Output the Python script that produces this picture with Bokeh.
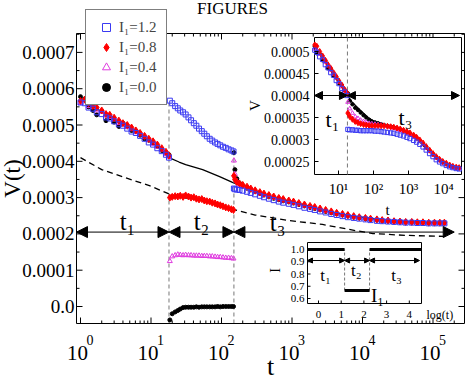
from math import pi
from bokeh.plotting import figure
from bokeh.models import Range1d, LinearScale, LogScale, Legend, LegendItem, Arrow, NormalHead
from bokeh.embed import file_html
from bokeh.resources import INLINE
from bokeh.core.properties import value

FONT = "Liberation Serif"
U = 1e-6  # every V value below is written in units of 1e-6

# ---------------- main panel data ----------------
legend_labels = ["I\u2081=1.2", "I\u2081=0.8", "I\u2081=0.4", "I\u2081=0.0"]
x_ticks = [1, 10, 100, 1000, 10000, 100000]
x_tick_base = ["10", "10", "10", "10", "10", "10"]
x_tick_exp = ["0", "1", "2", "3", "4", "5"]
x_minor_mult = [2, 3, 4, 5, 6, 7, 8, 9]
y_ticks = [0.0, 0.0001, 0.0002, 0.0003, 0.0004, 0.0005, 0.0006, 0.0007]
y_tick_labels = ["0.0", "0.0001", "0.0002", "0.0003", "0.0004", "0.0005", "0.0006", "0.0007"]
y_minor = [0.00005, 0.00015, 0.00025, 0.00035, 0.00045, 0.00055, 0.00065, 0.00075]

phase_bounds = [18, 150]
vline_tops = [567, 425]
phase_labels = ["t\u2081", "t\u2082", "t\u2083"]

# phase 1 (I = 1)
t_p1 = [1.0, 1.15, 1.3, 1.5, 1.7, 2.0, 2.3, 2.6, 3.0, 3.5, 4.0, 4.6, 5.3, 6.1, 7.0, 8.1, 9.3, 10.7, 12.3, 14.2, 16.3, 18.0]
v_p1_12 = [562, 560, 548, 545, 535, 530, 521, 518, 510, 502, 498, 490, 482, 478, 470, 462, 452, 446, 436, 428, 418, 410]
v_p1_08 = [566, 570, 560, 552, 548, 540, 530, 528, 520, 512, 505, 500, 493, 485, 478, 470, 462, 455, 446, 436, 426, 416]
v_p1_04 = [560, 565, 552, 550, 540, 536, 526, 522, 515, 505, 502, 494, 488, 480, 474, 466, 458, 448, 440, 432, 420, 412]
v_p1_00 = [578, 572, 550, 540, 528, 538, 512, 520, 508, 496, 505, 495, 485, 483, 472, 462, 458, 450, 441, 430, 424, 418]

# phase 2 (I = I1)
t_p2 = [18.5, 20, 22, 24, 26, 28.5, 31, 34, 37, 40.5, 44, 48, 52.5, 57, 62, 68, 74, 81, 88, 96, 105, 115, 126, 138, 148]
v_p2_12 = [567, 560, 552, 546, 540, 535, 529, 521, 513, 505, 498, 490, 483, 476, 469, 462, 457, 452, 448, 444, 440, 437, 433, 430, 427]
v_p2_08 = [300, 302, 304, 303, 305, 302, 306, 303, 300, 301, 297, 295, 296, 292, 290, 289, 286, 284, 281, 279, 276, 273, 271, 268, 266]
v_p2_04 = [125, 138, 141, 143, 142, 141, 142, 141, 141, 140, 140, 140, 139, 139, 139, 138, 138, 137, 136, 136, 135, 134, 134, 133, 132]
v_p2_00 = [-37, -20, -15, -11, -7, -3, -2, -2, -2, -2, -1, -2, -1, -1, -1, -1, -1, -1, 0, -1, 0, 0, 0, 0, 0]

# phase 3 (I = 1 again)
t_p3 = [150, 155, 165, 180, 200, 230, 260, 300, 350, 400, 470, 550, 650, 750, 900, 1050, 1250, 1500, 1800, 2100,
        2500, 3000, 3600, 4300, 5200, 6200, 7500, 9000, 11000, 13000, 16000, 19000, 23000, 28000, 34000, 41000,
        50000, 60000, 72000, 87000, 105000, 125000, 145000]
v_p3_12 = [325, 323, 322, 321, 319, 316, 313, 309, 305, 301, 297, 293, 289, 286, 283, 280, 276, 272, 269, 266,
           262, 259, 255, 252, 249, 246, 244, 242, 240, 238, 236, 235, 234, 233, 232, 231, 231, 230, 230, 229, 229, 229, 229]
v_p3_08 = [360, 350, 343, 339, 335, 330, 325, 320, 315, 311, 307, 303, 299, 296, 292, 289, 285, 281, 277, 274,
           270, 266, 262, 258, 255, 252, 249, 246, 244, 242, 240, 238, 237, 235, 234, 233, 233, 232, 232, 231, 231, 231, 231]
v_p3_04 = [402, 365, 345, 336, 331, 326, 321, 316, 311, 307, 303, 299, 295, 292, 289, 286, 282, 278, 274, 271,
           267, 263, 259, 256, 253, 250, 247, 245, 243, 241, 239, 237, 236, 234, 233, 232, 232, 231, 231, 230, 230, 230, 230]
v_p3_00 = [424, 377, 352, 340, 332, 326, 321, 316, 311, 307, 302, 298, 294, 291, 288, 285, 281, 277, 273, 270,
           266, 262, 258, 255, 252, 249, 246, 244, 242, 240, 238, 236, 235, 234, 233, 232, 232, 231, 231, 230, 230, 230, 230]

# reference curves
t_ref = [1, 2, 4, 8, 13, 18, 25, 31, 54, 94, 143, 200, 300, 500, 1000, 2000, 2700, 5000, 8000, 15000, 24000, 40000, 71000, 100000, 145000]
v_ref = [572, 536, 500, 466, 436, 410, 398, 391, 377, 358, 342, 330, 318, 303, 289, 273, 265, 255, 248, 241, 237, 234, 232, 231, 230]
t_dash = [1, 2, 4.3, 9.5, 18, 25, 40, 80, 150, 300, 900, 2700, 8000, 14000, 40000, 150000]
v_dash = [410, 377, 355, 333, 310, 302, 296, 281, 267, 252, 237, 226, 209, 201, 196, 193]

# ---------------- inset 1 data ----------------
i1_t1 = [2.1, 2.4, 2.9, 3.5, 4.2, 5.0, 6.0, 7.2, 8.6, 10.3, 12.4, 14.8, 17.5]
i1_v1_12 = [503, 498, 488, 482, 470, 463, 452, 446, 434, 427, 416, 408, 400]
i1_v1_08 = [515, 512, 500, 490, 480, 470, 462, 452, 443, 433, 424, 414, 406]
i1_v1_04 = [506, 504, 494, 486, 476, 468, 458, 449, 440, 430, 420, 410, 402]
i1_v1_00 = [512, 496, 495, 480, 478, 462, 460, 445, 441, 428, 423, 412, 403]
i1_t3 = [18.5, 21, 25, 30, 36, 43, 52, 62, 75, 90, 110, 135, 165, 200, 250, 310, 380, 470, 580, 720, 900, 1100,
         1400, 1700, 2100, 2600, 3200, 4000, 5000, 6200, 7700, 9500, 12000, 15000, 18500, 23000, 28000]
i1_v3_12 = [323, 322, 322, 321, 321, 320, 320, 320, 320, 320, 319, 319, 318, 317, 316, 315, 314, 312, 310, 308,
            305, 302, 298, 294, 289, 283, 276, 268, 261, 254, 249, 245, 241, 238, 236, 234, 233]
i1_v3_08 = [360, 352, 346, 341, 338, 336, 334, 333, 332, 331, 331, 331, 331, 331, 330, 329, 328, 326, 324, 321,
            318, 315, 310, 305, 299, 292, 284, 276, 268, 261, 255, 250, 246, 242, 239, 237, 236]
i1_v3_04 = [385, 370, 360, 352, 348, 344, 341, 339, 337, 336, 335, 334, 333, 332, 330, 328, 326, 324, 321, 318,
            315, 312, 307, 302, 296, 289, 281, 273, 265, 258, 252, 247, 243, 240, 237, 235, 234]
i1_v3_00 = [405, 388, 380, 372, 367, 361, 355, 350, 345, 341, 339, 337, 335, 333, 331, 329, 327, 325, 322, 319,
            316, 313, 308, 303, 297, 290, 282, 274, 266, 259, 253, 248, 244, 241, 238, 236, 235]
i1_tref = [2.1, 5, 10, 18, 25, 40, 70, 114, 200, 350, 700, 1070, 2000, 3080, 5000, 9300, 15000, 28000]
i1_vref = [510, 466, 430, 400, 384, 368, 350, 339, 334, 331, 322, 315, 297, 280, 266, 249, 241, 235]
i1_bound = 18
i1_arrow_end = 28650
i1_yticks = [0.0005, 0.00045, 0.0004, 0.00035, 0.0003, 0.00025]
i1_ytick_labels = ["0.0005", "0.00045", "0.0004", "0.00035", "0.0003", "0.00025"]
i1_xticks = [10, 100, 1000, 10000]
i1_xtick_labels = ["10\u00b9", "10\u00b2", "10\u00b3", "10\u2074"]

# ---------------- inset 2 (protocol) ----------------
i2_seg_x0 = [-0.4846, 1.15, 2.25]
i2_seg_x1 = [1.15, 2.25, 4.537]
i2_level = [1.0, 0.665, 1.0]
i2_bounds = [1.15, 2.25]
i2_arrow_end = 4.45
i2_yticks = [1.0, 0.9, 0.8, 0.7, 0.6]
i2_ytick_labels = ["1.0", "0.9", "0.8", "0.7", "0.6"]
i2_xticks = [0, 1, 2, 3, 4]
i2_xtick_labels = ["0", "1", "2", "3", "4"]

# ---------------- pixel geometry (figure pixels, origin top-left) ----------------
W, H = 466, 383
MX0, MXD = 80.0, 70.5                 # main: pixel of t=1, pixels per decade
MY0, MYK = 306.0, 363000.0            # main: pixel of V=0, pixels per unit of V
AX0, AXD = 338.0, 35.0                # inset 1: pixel of t=10, pixels per decade
AY0, AYK, AYV = 95.0, 440000.0, 0.0004
BX0, BXK = 318.0, 22.7                # inset 2: pixel of log t = 0, pixels per unit
BY0, BYK = 249.0, 122.5               # inset 2: pixel of I = 1.0, pixels per unit
MAIN_BOX = (76, 464, 33, 323)         # left, right, top, bottom
I1_BOX = (314, 461, 37, 174)
I2_BOX = (307, 421, 242, 303)

def mx(px): return 10 ** ((px - MX0) / MXD)
def my(py): return (MY0 - py) / MYK
def ax(px): return 10 ** (1 + (px - AX0) / AXD)
def ay(py): return AYV + (AY0 - py) / AYK
def bx(px): return (px - BX0) / BXK
def by(py): return 1.0 + (BY0 - py) / BYK

BLUE, RED, MAG, BLACK = "#3a3af2", "#ff0000", "#e03ce0", "#000000"
STY = {
    "12": dict(marker="square", size=5, fill_color=None, line_color=BLUE, line_width=1),
    "08": dict(marker="diamond", size=7, fill_color=RED, line_color=RED, line_width=1),
    "04": dict(marker="triangle", size=5, fill_color=None, line_color=MAG, line_width=1),
    "00": dict(marker="circle", size=4, fill_color=BLACK, line_color=BLACK, line_width=1),
}

p = figure(width=W, height=H, x_axis_type="log", x_axis_location=None, y_axis_location=None,
           x_range=Range1d(mx(0), mx(W)), y_range=Range1d(my(H), my(0)),
           output_backend="svg", toolbar_location=None,
           min_border=0, min_border_left=0, min_border_right=0, min_border_top=0, min_border_bottom=0,
           background_fill_color="white", border_fill_color="white")
p.outline_line_color = None
p.grid.visible = False

p.extra_x_ranges = {"i1x": Range1d(ax(0), ax(W)), "i2x": Range1d(bx(0), bx(W))}
p.extra_y_ranges = {"i1y": Range1d(ay(H), ay(0)), "i2y": Range1d(by(H), by(0))}
p.extra_x_scales = {"i1x": LogScale(), "i2x": LinearScale()}
p.extra_y_scales = {"i1y": LinearScale(), "i2y": LinearScale()}
R1 = dict(x_range_name="i1x", y_range_name="i1y")
R2 = dict(x_range_name="i2x", y_range_name="i2y")

def scaled(v):
    return [x * U for x in v]

def series(t, v, key, k=1.0, **rng):
    st = dict(STY[key])
    st["size"] = st["size"] * k
    return p.scatter(x=t, y=scaled(v), **st, **rng)

def txt(x, y, text, size, align="center", baseline="middle", angle=0, **rng):
    p.text(x=x, y=y, text=text, angle=angle, text_font=value(FONT), text_font_size=size,
           text_align=align, text_baseline=baseline, text_color="black", **rng)

def arrow(a, b, y, head, **rng):
    p.add_layout(Arrow(x_start=a, y_start=y, x_end=b, y_end=y,
                       start=NormalHead(size=head, fill_color="black", line_color="black"),
                       end=NormalHead(size=head, fill_color="black", line_color="black"),
                       line_color="black", line_width=1, **rng))

# ---------------- main panel ----------------
L, R, T, B = MAIN_BOX
p.line(t_ref, scaled(v_ref), line_color="black", line_width=1.3)
p.line(t_dash, scaled(v_dash), line_color="black", line_width=1.3, line_dash="6 4")
p.segment(x0=phase_bounds, y0=my(B), x1=phase_bounds, y1=scaled(vline_tops),
          line_color="#777777", line_width=1, line_dash="4 3")

main_rs = {}
for key, v1, v2, v3 in [("00", v_p1_00, v_p2_00, v_p3_00), ("04", v_p1_04, v_p2_04, v_p3_04),
                        ("08", v_p1_08, v_p2_08, v_p3_08), ("12", v_p1_12, v_p2_12, v_p3_12)]:
    main_rs[key] = series(t_p1, v1, key)
    series(t_p2, v2, key)
    series(t_p3, v3, key)

arrow_y = 0.000205
ends = [mx(L)] + phase_bounds + [2.0e5]
for a, b in zip(ends[:-1], ends[1:]):
    arrow(a, b, arrow_y, 11)
txt([4.64, 52, 623], [0.000233, 0.000233, 0.000231], phase_labels, "25px")

# frame, ticks and tick labels of the main panel
p.quad(left=mx(L), right=mx(R), top=my(T), bottom=my(B), fill_color=None, line_color="black", line_width=1)
x_minor = [m * d for d in x_ticks for m in x_minor_mult if m * d < mx(R)]
for xs, ln in [(x_ticks, 6), (x_minor, 3)]:
    p.segment(x0=xs, x1=xs, y0=my(B), y1=my(B - ln), line_color="black", line_width=1)
    p.segment(x0=xs, x1=xs, y0=my(T), y1=my(T + ln), line_color="black", line_width=1)
for ys, ln in [(y_ticks, 6), (y_minor, 3)]:
    p.segment(x0=mx(L), x1=mx(L + ln), y0=ys, y1=ys, line_color="black", line_width=1)
    p.segment(x0=mx(R), x1=mx(R - ln), y0=ys, y1=ys, line_color="black", line_width=1)
p.text(x=x_ticks, y=my(352), text=x_tick_base, x_offset=-3, text_font=value(FONT), text_font_size="21px",
       text_align="center", text_baseline="alphabetic", text_color="black")
p.text(x=x_ticks, y=my(339), text=x_tick_exp, x_offset=6, text_font=value(FONT), text_font_size="14px",
       text_align="left", text_baseline="alphabetic", text_color="black")
txt(mx(L - 2), y_ticks, y_tick_labels, "19px", align="right")
txt(mx(12), my(178), ["V(t)"], "23px", angle=pi / 2)
txt(mx(270), my(366), ["t"], "26px")
txt(mx(232), my(8), ["FIGURES"], "17px")

# ---------------- inset 1 ----------------
L1, R1x, T1, B1 = I1_BOX
p.quad(left=ax(L1), right=ax(R1x), bottom=ay(B1), top=ay(T1), fill_color="white", line_color="black",
       line_width=1, **R1)
p.segment(x0=i1_bound, x1=i1_bound, y0=ay(B1), y1=ay(T1), line_color="#777777", line_width=1,
          line_dash="4 3", **R1)
p.line(i1_tref, scaled(i1_vref), line_color="black", line_width=1.3, **R1)
for key, v1, v3 in [("00", i1_v1_00, i1_v3_00), ("04", i1_v1_04, i1_v3_04),
                    ("08", i1_v1_08, i1_v3_08), ("12", i1_v1_12, i1_v3_12)]:
    series(i1_t1, v1, key, 0.85, **R1)
    series(i1_t3, v3, key, 0.85, **R1)
arrow(ax(L1), i1_bound, 0.0004, 8, **R1)
arrow(i1_bound, i1_arrow_end, 0.0004, 8, **R1)
p.segment(x0=i1_xticks, x1=i1_xticks, y0=ay(B1), y1=ay(B1 - 4), line_color="black", **R1)
p.segment(x0=ax(L1), x1=ax(L1 + 4), y0=i1_yticks, y1=i1_yticks, line_color="black", **R1)
txt(ax(L1 - 5), i1_yticks, i1_ytick_labels, "14px", align="right", **R1)
txt(i1_xticks, ay(188), i1_xtick_labels, "15px", **R1)
txt([6.74, 820], [0.0003455, 0.00035], ["t\u2081", "t\u2083"], "22px", **R1)
txt(ax(254), ay(105), ["V"], "15px", angle=pi / 2, **R1)
txt(ax(387), ay(209), ["t"], "15px", **R1)

# ---------------- inset 2 ----------------
L2, R2x, T2, B2 = I2_BOX
p.quad(left=bx(L2), right=bx(R2x), bottom=by(B2), top=by(T2), fill_color="white", line_color="black",
       line_width=1, **R2)
p.segment(x0=i2_bounds, x1=i2_bounds, y0=min(i2_level), y1=max(i2_level), line_color="#777777",
          line_width=1, line_dash="3 2", **R2)
p.segment(x0=i2_seg_x0, x1=i2_seg_x1, y0=i2_level, y1=i2_level, line_color="black", line_width=3, **R2)
i2_ends = [bx(L2)] + i2_bounds + [i2_arrow_end]
for a, b in zip(i2_ends[:-1], i2_ends[1:]):
    arrow(a, b, 0.91, 5, **R2)
p.segment(x0=i2_xticks, x1=i2_xticks, y0=by(B2), y1=by(B2 - 3), line_color="black", **R2)
p.segment(x0=bx(L2), x1=bx(L2 + 3), y0=i2_yticks, y1=i2_yticks, line_color="black", **R2)
txt(bx(L2 - 3), i2_yticks, i2_ytick_labels, "11px", align="right", **R2)
txt(i2_xticks, by(314), i2_xtick_labels, "11px", **R2)
txt(bx(426), by(314), ["log(t)"], "12px", align="left", **R2)
txt(bx(275), by(270), ["I"], "14px", angle=pi / 2, **R2)
txt([0.31, 1.67, 3.44], [0.79, 0.83, 0.79], ["t\u2081", "t\u2082", "t\u2083"], "17px", **R2)
txt(2.6, 0.624, ["I\u2081"], "19px", **R2)

# ---------------- legend ----------------
legend = Legend(items=[LegendItem(label=value(lab), renderers=[main_rs[k]])
                       for lab, k in zip(legend_labels, ["12", "08", "04", "00"])],
                location=(85, 278), orientation="vertical",
                label_text_font=FONT, label_text_font_size="15px",
                padding=7, spacing=-3, margin=0,
                glyph_width=26, glyph_height=20, label_height=20, label_width=40, label_standoff=0,
                border_line_color="black", border_line_width=1,
                background_fill_color="white", background_fill_alpha=1)
p.add_layout(legend)

open("out.html", "w").write(file_html(p, INLINE))
